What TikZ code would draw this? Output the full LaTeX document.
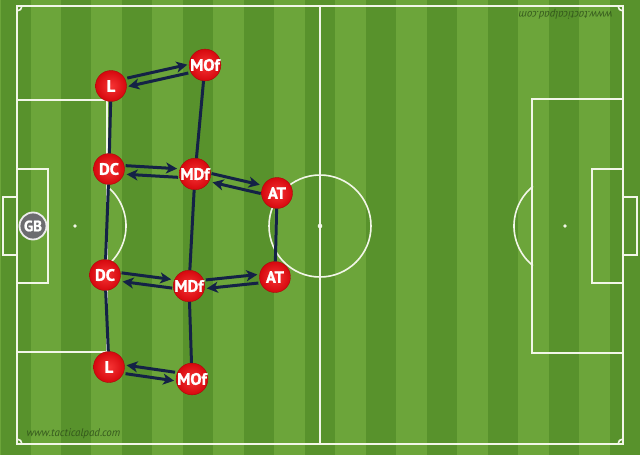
\documentclass[tikz,border=0pt]{standalone}
\usepackage{fontspec}
\setmainfont{PT Sans}
\newfontfamily\plab{PT Sans}[UprightFont={* Bold}, FakeBold=1.4]
\usetikzlibrary{arrows.meta}
\definecolor{grassL}{RGB}{108,165,58}
\definecolor{grassD}{RGB}{88,146,44}
\definecolor{navy}{RGB}{20,34,70}
\definecolor{lineW}{RGB}{242,246,232}
\definecolor{ballIn}{RGB}{246,52,52}
\definecolor{ballOut}{RGB}{214,8,14}
\definecolor{markG}{RGB}{44,76,24}
\definecolor{gbGrey}{RGB}{108,108,112}
\begin{document}
\begin{tikzpicture}[x=1pt,y=-1pt,
  fieldline/.style={draw=lineW, line width=1.6pt},
  player/.style={circle, minimum size=31pt, inner sep=0pt, shading=radial,
    inner color=ballIn, outer color=ballOut, draw=ballOut!80!black, line width=0.4pt,
    text=white, font=\fontsize{16.5}{16.5}\selectfont\plab},
  keeper/.style={circle, minimum size=27pt, inner sep=0pt, fill=gbGrey,
    draw=white!85!gray, line width=1.8pt, text=white,
    font=\fontsize{15}{15}\selectfont\plab},
  link/.style={draw=navy, line width=3pt},
  pass/.style={draw=navy, line width=3pt, shorten >=2pt, shorten <=1pt,
    -{Stealth[length=11pt,width=11pt,inset=3pt]}},
  up/.style={transform canvas={yshift=4.3pt}},
  down/.style={transform canvas={yshift=-4.3pt}},
  watermark/.style={text=markG, opacity=0.85, font=\fontsize{11}{11}\selectfont\itshape}
]
\useasboundingbox (0,0) rectangle (640,455);
% grass stripes
\fill[grassL] (0,0) rectangle (640,455);
\foreach \k in {-5,...,5}
  \fill[grassD] ({320+60.9*\k-15},0) rectangle ({320+60.9*\k+15},455);

% pitch markings
\draw[fieldline] (17,6) rectangle (623,444);
\draw[fieldline] (320,6) -- (320,444);
\draw[fieldline] (320,226) circle (51);
\fill[lineW] (320,226) circle (2.3);
% left side
\draw[fieldline] (17,100) rectangle (107,352);
\draw[fieldline] (17,169) rectangle (48,283);
\draw[fieldline] (17,197) rectangle (3,255);
\fill[lineW] (75,226) circle (1.8);
\draw[fieldline] (75,226) ++(-51:51) arc (-51:51:51);
% right side
\draw[fieldline] (623,99) rectangle (532,353);
\draw[fieldline] (623,169) rectangle (592,283);
\draw[fieldline] (623,197) rectangle (637,255);
\fill[lineW] (565,226) circle (1.8);
\draw[fieldline] (565,226) ++(129:51) arc (129:231:51);
% corner arcs
\draw[fieldline] (22,6) arc (0:90:5);
\draw[fieldline] (17,439) arc (270:360:5);
\draw[fieldline] (618,6) arc (180:90:5);
\draw[fieldline] (618,444) arc (180:270:5);

% watermarks
\node[watermark, anchor=west] (wm1) at (23,434) {www.tacticalpad.com};
\node[watermark, anchor=west, rotate=180] (wm2) at (616,14) {www.tacticalpad.com};

% players
\node[keeper] (GB) at (33,226) {GB};
\node[player] (L1) at (111,86) {L};
\node[player] (MO1) at (205,65) {MOf};
\node[player] (DC1) at (109,169) {DC};
\node[player] (MD1) at (195,174) {MDf};
\node[player] (AT1) at (277,193) {AT};
\node[player] (DC2) at (105,275) {DC};
\node[player] (MD2) at (189,286) {MDf};
\node[player] (AT2) at (275,277) {AT};
\node[player] (L2) at (109,367) {L};
\node[player] (MO2) at (192,379) {MOf};

% plain links
\draw[link] (L1) -- (DC1);
\draw[link] (MO1) -- (MD1);
\draw[link] (DC1) -- (DC2);
\draw[link] (MD1) -- (MD2);
\draw[link] (AT1) -- (AT2);
\draw[link] (DC2) -- (L2);
\draw[link] (MD2) -- (MO2);

% passes
\draw[pass, up] (L1) -- (MO1);
\draw[pass, down] (MO1) -- (L1);
\draw[pass, up] (DC1) -- (MD1);
\draw[pass, down] (MD1) -- (DC1);
\draw[pass, up] (MD1) -- (AT1);
\draw[pass, down] (AT1) -- (MD1);
\draw[pass, up] (DC2) -- (MD2);
\draw[pass, down] (MD2) -- (DC2);
\draw[pass, up] (MD2) -- (AT2);
\draw[pass, down] (AT2) -- (MD2);
\draw[pass, up] (MO2) -- (L2);
\draw[pass, down] (L2) -- (MO2);
\end{tikzpicture}
\end{document}
